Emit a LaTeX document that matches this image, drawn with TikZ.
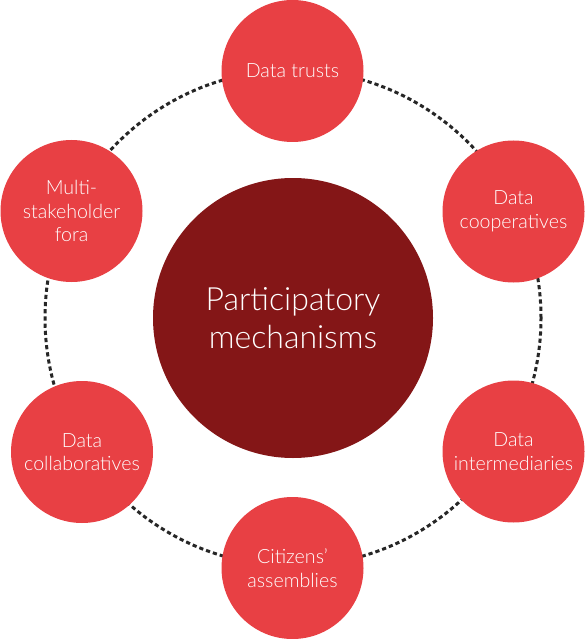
\documentclass[tikz,border=0pt]{standalone}
\usepackage{fontspec}
\setmainfont{Lato}[UprightFont={* Light}]
\definecolor{outerred}{HTML}{E84044}
\definecolor{innerred}{HTML}{841617}
\definecolor{dashgray}{HTML}{262626}
\begin{document}
\begin{tikzpicture}[x=1pt,y=-1pt,
  outer/.style={circle,fill=outerred,minimum size=142pt,inner sep=0pt,align=center,
    text=white,font=\fontsize{19.6}{23.5}\selectfont},
  inner/.style={circle,fill=innerred,minimum size=280pt,inner sep=0pt,align=center,
    text=white,font=\fontsize{32}{38}\selectfont},
  ring/.style={draw=dashgray,line width=3pt,dash pattern=on 4.2pt off 3pt}]
\useasboundingbox (0,0) rectangle (585,639);
\coordinate (c) at (293,318);
\draw[ring] (c) circle[radius=248pt];
\node[inner] (center) at (c) {Participatory\\mechanisms};
\node[outer] (trusts) at (292.5,71) {Data trusts};
\node[outer] (coop) at (513.5,211.5) {Data\\cooperatives};
\node[outer] (inter) at (513.5,451.5) {Data\\intermediaries};
\node[outer] (citizens) at (292.5,568) {Citizens’\\assemblies};
\node[outer] (collab) at (82,452) {Data\\collaboratives};
\node[outer] (multi) at (71.5,211) {Multi-\\stakeholder\\fora};
\end{tikzpicture}
\end{document}
